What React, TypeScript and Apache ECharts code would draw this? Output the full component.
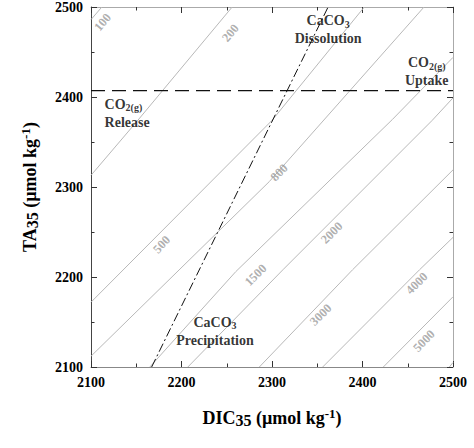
import React, { useEffect, useRef } from "react";
import * as echarts from "echarts";

// Axis range (µmol kg-1)
const axisMin = 2100;
const axisMax = 2500;
const axisStep = 100;

// pCO2 isolines: [DIC35, TA35]
const iso100 = [[2100, 2486], [2112, 2500]];
const iso200 = [[2100, 2313], [2150, 2372], [2256, 2500]];
const iso500 = [[2100, 2172], [2300, 2374], [2402, 2500]];
const iso800 = [[2100, 2112], [2297, 2306], [2468, 2500]];
const iso1500 = [[2165, 2100], [2260, 2206], [2433, 2375], [2500, 2444]];
const iso2000 = [[2207, 2100], [2312, 2208], [2477, 2374], [2500, 2399]];
const iso3000 = [[2286, 2100], [2389, 2208], [2500, 2319]];
const iso4000 = [[2356, 2100], [2463, 2208], [2500, 2244]];
const iso5000 = [[2423, 2100], [2500, 2178]];
const iso6000 = [[2496, 2100], [2500, 2105]];
const isolines = [iso100, iso200, iso500, iso800, iso1500, iso2000, iso3000, iso4000, iso5000, iso6000];

// isoline labels
const isoLabelText = ["100", "200", "500", "800", "1500", "2000", "3000", "4000", "5000"];
const isoLabelDIC = [2113, 2254, 2178, 2308, 2282, 2366, 2354, 2460, 2468];
const isoLabelTA = [2483, 2471, 2236, 2316, 2202, 2249, 2158, 2193, 2129];
const isoLabelAngle = [50, 50, 47, 46, 45, 45, 45, 45, 46];

// CaCO3 precipitation/dissolution line (slope 2)
const caco3Line = [[2167, 2100], [2362, 2500]];
// CO2(g) uptake/release line
const co2LineTA = 2407;

// annotations
const noteCenteredText = [
  "{n|CaCO}{s|3}\n{n|Dissolution}",
  "{n|CO}{s|2(g)}\n{n|Uptake}",
  "{n|CaCO}{s|3}\n{n|Precipitation}",
];
const noteCenteredDIC = [2362, 2471, 2237];
const noteCenteredTA = [2475, 2428, 2140];
const noteLeftText = ["{n|CO}{s|2(g)}\n{n|Release}"];
const noteLeftDIC = [2115];
const noteLeftTA = [2382];

const SERIF = "'Liberation Serif', 'Times New Roman', serif";

const noteRich = {
  n: { fontFamily: SERIF, fontWeight: "bold", fontSize: 14, color: "#000", lineHeight: 18 },
  s: { fontFamily: SERIF, fontWeight: "bold", fontSize: 10, color: "#000", padding: [7, 0, 0, 0], lineHeight: 18 },
};

const titleRich = {
  t: { fontFamily: SERIF, fontWeight: "bold", fontSize: 18, color: "#000" },
  d: { fontFamily: SERIF, fontWeight: "bold", fontSize: 16, color: "#000", padding: [4, 0, 0, 0] },
  u: { fontFamily: SERIF, fontWeight: "bold", fontSize: 13, color: "#000", padding: [0, 0, 9, 0] },
};

export default function App() {
  const ref = useRef<HTMLDivElement>(null);
  useEffect(() => {
    if (!ref.current) return;
    const chart = echarts.init(ref.current, undefined, { renderer: "svg" });
    const tickLabel = {
      color: "#000",
      fontFamily: SERIF,
      fontWeight: "bold",
      fontSize: 14,
      formatter: (v: number) => String(v),
    };
    const baseAxis = {
      type: "value",
      min: axisMin,
      max: axisMax,
      interval: axisStep,
      splitLine: { show: false },
      axisTick: { show: true, inside: true, length: 6, lineStyle: { color: "#333", width: 1 } },
      minorTick: { show: true, splitNumber: 2, length: 3.5, lineStyle: { color: "#333", width: 1 } },
      minorSplitLine: { show: false },
    };
    const series: any[] = isolines.map((pts) => ({
      type: "line",
      data: pts,
      showSymbol: false,
      symbol: "none",
      lineStyle: { color: "#b8b8b8", width: 1 },
      silent: true,
      z: 2,
    }));
    series.push({
      type: "line",
      data: caco3Line,
      showSymbol: false,
      symbol: "none",
      lineStyle: { color: "#111", width: 1, type: [9, 3, 2, 3] },
      z: 3,
    });
    series.push({
      type: "line",
      data: [[axisMin, co2LineTA], [axisMax, co2LineTA]],
      showSymbol: false,
      symbol: "none",
      lineStyle: { color: "#111", width: 1.2, type: [14, 7] },
      z: 3,
    });
    series.push({
      type: "scatter",
      data: isoLabelDIC.map((d, i) => ({
        value: [d, isoLabelTA[i]],
        label: { rotate: isoLabelAngle[i] },
        name: isoLabelText[i],
      })),
      symbolSize: 1,
      itemStyle: { color: "rgba(0,0,0,0)" },
      label: {
        show: true,
        position: "inside",
        formatter: (p: any) => p.name,
        color: "#9a9a9a",
        fontFamily: SERIF,
        fontWeight: "bold",
        fontSize: 12.5,
      },
      z: 4,
    });
    series.push({
      type: "scatter",
      data: noteCenteredDIC.map((d, i) => ({ value: [d, noteCenteredTA[i]], name: noteCenteredText[i] })),
      symbolSize: 1,
      itemStyle: { color: "rgba(0,0,0,0)" },
      label: {
        show: true,
        position: "inside",
        align: "center",
        verticalAlign: "middle",
        formatter: (p: any) => p.name,
        rich: noteRich,
      },
      z: 5,
    });
    series.push({
      type: "scatter",
      data: noteLeftDIC.map((d, i) => ({ value: [d, noteLeftTA[i]], name: noteLeftText[i] })),
      symbolSize: 1,
      itemStyle: { color: "rgba(0,0,0,0)" },
      label: {
        show: true,
        position: "inside",
        align: "left",
        verticalAlign: "middle",
        formatter: (p: any) => p.name,
        rich: noteRich,
      },
      z: 5,
    });

    chart.setOption({
      animation: false,
      grid: { left: 91, top: 7, width: 362, height: 360, containLabel: false },
      xAxis: [
        {
          ...baseAxis,
          position: "bottom",
          axisLine: { show: true, lineStyle: { color: "#888", width: 1 } },
          axisLabel: { ...tickLabel, margin: 8 },
          name: "{t|DIC}{d|35}{t| (µmol kg}{u|-1}{t|)}",
          nameLocation: "middle",
          nameGap: 40,
          nameTextStyle: { rich: titleRich },
        },
        {
          ...baseAxis,
          position: "top",
          axisLine: { show: true, lineStyle: { color: "#aaa", width: 1 } },
          axisLabel: { show: false },
        },
      ],
      yAxis: [
        {
          ...baseAxis,
          position: "left",
          axisLine: { show: true, lineStyle: { color: "#444", width: 1 } },
          axisLabel: { ...tickLabel, margin: 8 },
          name: "{t|TA}{d|35}{t| (µmol kg}{u|-1}{t|)}",
          nameLocation: "middle",
          nameGap: 50,
          nameRotate: 90,
          nameTextStyle: { rich: titleRich },
        },
        {
          ...baseAxis,
          position: "right",
          axisLine: { show: true, lineStyle: { color: "#aaa", width: 1 } },
          axisLabel: { show: false },
        },
      ],
      series,
    });
    return () => chart.dispose();
  }, []);
  return (
    <div
      ref={ref}
      style={{ position: "fixed", left: 0, top: 0, width: 474, height: 448, background: "#fff" }}
    />
  );
}
